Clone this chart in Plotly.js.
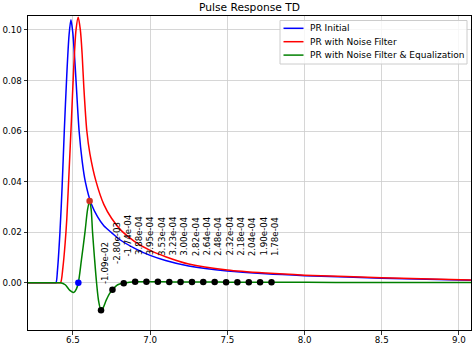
<!DOCTYPE html>
<html>
<head>
<meta charset="utf-8">
<script src="https://cdn.plot.ly/plotly-3.0.1.min.js"></script>
<style>
  html, body { margin: 0; padding: 0; background: #fff; }
  #chart { width: 474px; height: 345px; }
</style>
</head>
<body>
<div id="chart"></div>
<script>
// ---- Pulse response samples (time in ns, amplitude in V) ----
const tInitial = [6.20, 6.38, 6.39, 6.40, 6.416, 6.43, 6.444, 6.46, 6.475, 6.487, 6.499, 6.51, 6.52, 6.54,
  6.56, 6.58, 6.62, 6.66, 6.70, 6.75, 6.80, 6.90, 7.00, 7.10, 7.25, 7.50, 7.75, 8.00, 8.50, 9.08];
const vInitial = [0, 0, 0, 0.005, 0.020, 0.038, 0.060, 0.082, 0.098, 0.104, 0.099, 0.090, 0.080, 0.060,
  0.048, 0.040, 0.031, 0.026, 0.0225, 0.0198, 0.0172, 0.0136, 0.0108, 0.0088, 0.0066, 0.0046, 0.0035, 0.0028, 0.0018, 0.0010];

const tNoise = [6.20, 6.41, 6.42, 6.435, 6.45, 6.46, 6.475, 6.49, 6.505, 6.52, 6.534, 6.548, 6.56, 6.57,
  6.59, 6.61, 6.65, 6.70, 6.75, 6.815, 6.90, 7.00, 7.10, 7.25, 7.50, 7.75, 8.00, 8.50, 9.08];
const vNoise = [0, 0, 0, 0.006, 0.016, 0.025, 0.044, 0.064, 0.085, 0.100, 0.105, 0.100, 0.090, 0.078,
  0.060, 0.051, 0.040, 0.031, 0.0255, 0.0205, 0.0163, 0.0128, 0.0103, 0.0074, 0.0050, 0.0038, 0.0030, 0.0020, 0.0011];

const tEq = [6.20, 6.41, 6.42, 6.45, 6.48, 6.505, 6.522, 6.535, 6.555, 6.578, 6.595, 6.608, 6.618, 6.627,
  6.640, 6.653, 6.667, 6.682, 6.695, 6.715, 6.735, 6.756, 6.790, 6.829, 6.903, 6.976, 7.050, 7.124,
  7.197, 7.271, 7.344, 7.418, 7.492, 7.565, 7.639, 7.712, 7.786, 8.20, 8.60, 9.08];
const vEq = [0, 0, 0, -0.0008, -0.0030, -0.0039, -0.0025, 0.0000, 0.0090, 0.0200, 0.0290, 0.0323, 0.0290, 0.0200,
  0.0095, 0.0000, -0.0075, -0.0109, -0.0100, -0.0070, -0.0045, -0.0028, -0.0008, -0.000174, 0.000388, 0.000395, 0.000353, 0.000323,
  0.000300, 0.000282, 0.000264, 0.000248, 0.000232, 0.000218, 0.000204, 0.000190, 0.000178, 0.00013, 0.00010, 0.00007];

// Cursor samples of the equalized response
const preCursorT = [6.535];
const preCursorV = [0.0];
const mainCursorT = [6.608];
const mainCursorV = [0.0323];
const postCursorT = [6.682, 6.756, 6.829, 6.903, 6.976, 7.050, 7.124, 7.197, 7.271, 7.344, 7.418,
  7.492, 7.565, 7.639, 7.712, 7.786];
const postCursorV = [-1.09e-02, -2.80e-03, -1.74e-04, 3.88e-04, 3.95e-04, 3.53e-04, 3.23e-04, 3.00e-04,
  2.82e-04, 2.64e-04, 2.48e-04, 2.32e-04, 2.18e-04, 2.04e-04, 1.90e-04, 1.78e-04];

// Axis ticks
const xTicks = [6.5, 7.0, 7.5, 8.0, 8.5, 9.0];
const yTicks = [0.00, 0.02, 0.04, 0.06, 0.08, 0.10];

const seriesNames = ['PR Initial', 'PR with Noise Filter', 'PR with Noise Filter & Equalization'];
const seriesColors = ['#0000ff', '#ff0000', '#008000'];

const FONT = 'DejaVu Sans, sans-serif';
const LABEL_OFFSET = 0.01;

// printf-style "%.2e" (two-digit exponent)
function fmtE(v) {
  return v.toExponential(2).replace(/e([+-])(\d+)$/, (m, s, d) => 'e' + s + (d.length < 2 ? '0' + d : d));
}

const lineStyle = c => ({ color: c, width: 1.5, shape: 'spline', smoothing: 0.8 });

const traces = [
  { x: tInitial, y: vInitial, mode: 'lines', name: seriesNames[0], line: lineStyle(seriesColors[0]) },
  { x: tNoise, y: vNoise, mode: 'lines', name: seriesNames[1], line: lineStyle(seriesColors[1]) },
  { x: tEq, y: vEq, mode: 'lines', name: seriesNames[2], line: lineStyle(seriesColors[2]) },
  { x: preCursorT, y: preCursorV, mode: 'markers', marker: { color: '#0000ff', size: 6.5 } },
  { x: mainCursorT, y: mainCursorV, mode: 'markers', marker: { color: '#d03020', size: 6.5 } },
  { x: postCursorT, y: postCursorV, mode: 'markers', marker: { color: '#000000', size: 6.5 } }
].map(t => Object.assign(t, { showlegend: false, hoverinfo: 'skip' }));

// Rotated value labels over each post-cursor
const annotations = postCursorT.map((t, i) => ({
  x: t, y: postCursorV[i] + LABEL_OFFSET, xref: 'x', yref: 'y',
  text: fmtE(postCursorV[i]), textangle: -90, showarrow: false,
  xanchor: 'left', yanchor: 'bottom', borderpad: 0, xshift: -2,
  font: { family: FONT, size: 8.7, color: '#000' }
}));

// Legend box (upper right)
const M = { l: 28, r: 3, t: 16, b: 15 };
const W = 474, H = 345;
const pw = W - M.l - M.r, ph = H - M.t - M.b;
const px = x => (x - M.l) / pw;
const py = y => 1 - (y - M.t) / ph;

const shapes = [{
  type: 'rect', xref: 'paper', yref: 'paper',
  x0: px(280), x1: px(467), y0: py(64), y1: py(20.5),
  fillcolor: 'rgba(255,255,255,0.8)', line: { color: '#cccccc', width: 1 }, layer: 'above'
}];
seriesNames.forEach((name, i) => {
  const yy = 28.3 + i * 13.4;
  shapes.push({ type: 'line', xref: 'paper', yref: 'paper', x0: px(283.5), x1: px(303.5), y0: py(yy), y1: py(yy),
    line: { color: seriesColors[i], width: 1.5 }, layer: 'above' });
  annotations.push({ xref: 'paper', yref: 'paper', x: px(309), y: py(yy), text: name, showarrow: false,
    xanchor: 'left', yanchor: 'middle', borderpad: 0, font: { family: FONT, size: 9, color: '#000' } });
});

const axisCommon = {
  showline: true, mirror: true, linecolor: '#000', linewidth: 1,
  ticks: 'outside', ticklen: 3.5, tickwidth: 0.8, tickcolor: '#000',
  showgrid: true, gridcolor: '#cccccc', gridwidth: 0.8, zeroline: false,
  tickfont: { family: FONT, size: 8.7, color: '#000' }
};

const layout = {
  width: W, height: H,
  margin: M,
  paper_bgcolor: '#fff', plot_bgcolor: '#fff',
  title: { text: 'Pulse Response TD', x: 0.5, xref: 'paper', y: 1 - 7.5 / H, yref: 'container', yanchor: 'middle',
    font: { family: FONT, size: 10.7, color: '#000' } },
  xaxis: Object.assign({}, axisCommon, { range: [6.209, 9.078], tickvals: xTicks, tickformat: '.1f', ticklabelstandoff: -2 }),
  yaxis: Object.assign({}, axisCommon, { range: [-0.0187, 0.1055], tickvals: yTicks, tickformat: '.2f' }),
  showlegend: false,
  annotations: annotations,
  shapes: shapes
};

Plotly.newPlot('chart', traces, layout, { displayModeBar: false, staticPlot: true });
</script>
</body>
</html>
